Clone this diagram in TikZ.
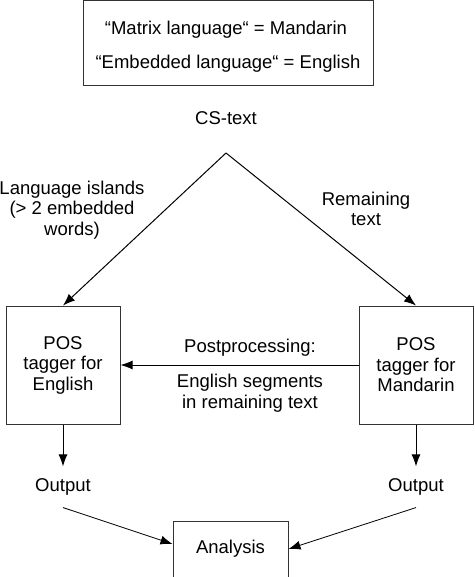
\documentclass[tikz,border=0pt]{standalone}
\usepackage{fontspec}
\setmainfont{Liberation Sans}
\usetikzlibrary{arrows.meta}
\begin{document}
\begin{tikzpicture}[x=1pt,y=-1pt,
  every node/.style={font=\fontsize{18.5}{20.5}\selectfont, align=center},
  box/.style={draw=black!80, line width=1pt, inner sep=0pt},
  txt/.style={inner sep=0pt},
  arr/.style={line width=1pt, -{Latex[length=12pt,width=9pt]}},
  thinarr/.style={line width=0.8pt, -{Latex[length=12pt,width=9pt]}}]
\useasboundingbox (0,0) rectangle (474,577);
\node[box, minimum width=290pt, minimum height=85pt] (top) at (228,43.5) {};
\node[txt] (l1) at (226,30) {“Matrix language“ = Mandarin};
\node[txt] (l2) at (228,64) {“Embedded language“ = English};
\node[txt] (cs) at (226,118) {CS-text};
\coordinate (apex) at (226,153);
\node[box, minimum width=114pt, minimum height=118pt] (lb) at (63,365) {POS\\tagger for\\English};
\node[box, minimum width=114pt, minimum height=118pt] (rb) at (416,365) {POS\\tagger for\\Mandarin};
\node[txt] (lisl) at (72,210) {Language islands\\(> 2 embedded\\words)};
\node[txt] (rem) at (366,209) {Remaining\\text};
\draw[arr] (apex) -- (lb.north);
\draw[arr] (apex) -- (rb.north);
\draw[arr] (rb.west) -- (lb.east);
\node[txt] (pp) at (250,348) {Postprocessing:};
\node[txt] (seg) at (250,393) {English segments\\in remaining text};
\node[txt, inner sep=12pt] (outL) at (63,487) {Output};
\node[txt, inner sep=12pt] (outR) at (416,487) {Output};
\draw[arr] (lb.south) -- (outL.north);
\draw[arr] (rb.south) -- (outR.north);
\node[box, minimum width=115pt, minimum height=56pt] (an) at (230.5,549) {Analysis};
\draw[thinarr] (outL.south) -- ([yshift=5pt]an.west);
\draw[thinarr] (outR.south) -- (an.east);
\end{tikzpicture}
\end{document}
